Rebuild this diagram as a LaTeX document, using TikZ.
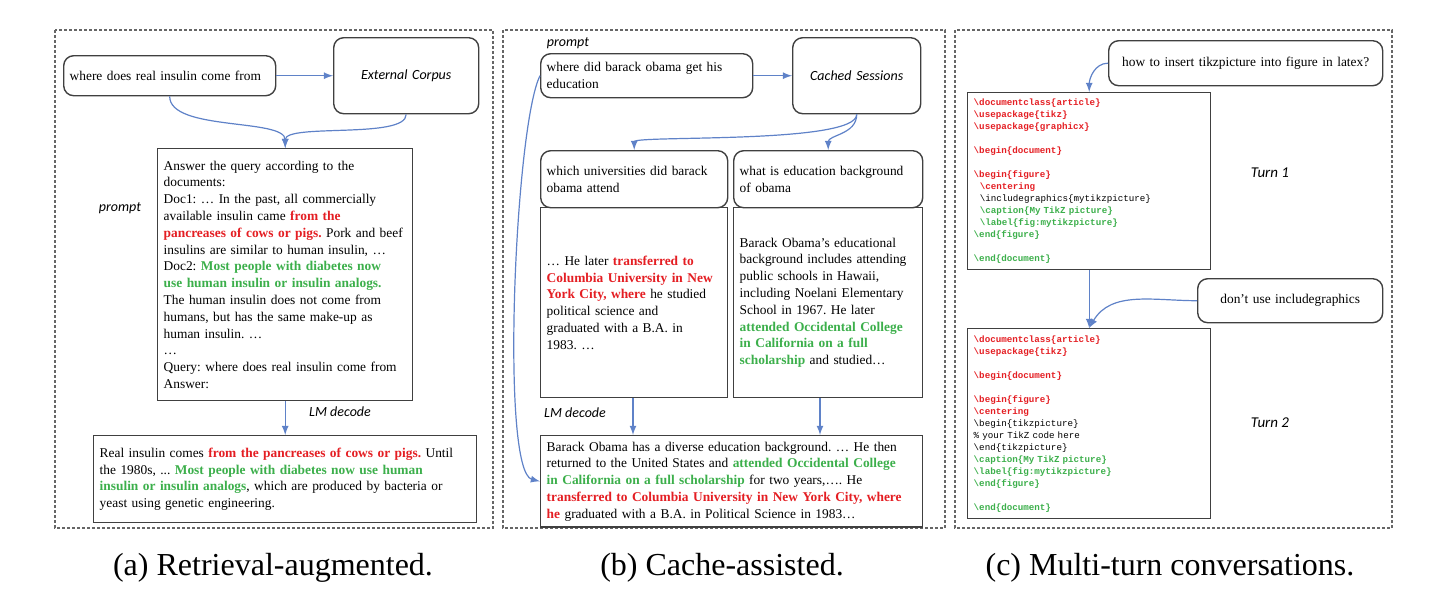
\documentclass[tikz,border=0pt]{standalone}
\usepackage{fontspec}
\setmainfont{Liberation Serif}
\newfontfamily\calib{Carlito}
\newfontfamily\codefont{Liberation Mono}
\usepackage{xcolor}
\usetikzlibrary{arrows,shapes}
\definecolor{hired}{RGB}{228,30,35}
\definecolor{higreen}{RGB}{60,175,75}
\definecolor{arrblue}{RGB}{95,130,200}
\newcommand\rd[1]{\textcolor{hired}{\textbf{#1}}}
\newcommand\gr[1]{\textcolor{higreen}{\textbf{#1}}}
\newcommand\bs{\textbackslash}
\frenchspacing
\tikzset{
  panel/.style={draw=black!60, dash pattern=on 1.5pt off 1pt, line width=0.6pt},
  box/.style={draw=black!75, line width=0.7pt, anchor=north west, align=left, inner sep=3pt,
    font=\fontsize{6.7}{8.4}\selectfont},
  rbox/.style={box, rounded corners=5pt},
  code/.style={box, font=\codefont\fontsize{4.6}{6}\selectfont},
  tag/.style={font=\calib\itshape\fontsize{7}{8}\selectfont},
  flow/.style={draw=arrblue, line width=0.6pt, -latex},
  subcap/.style={font=\fontsize{16}{18}\selectfont}
}
\begin{document}
\begin{tikzpicture}[x=0.5pt,y=-0.5pt]
        \useasboundingbox (0,0) rectangle (1440,612);
        \draw[panel] (55,30) rectangle (493,528);
        \draw[panel] (503,30) rectangle (945,528);
        \draw[panel] (955,30) rectangle (1392,528);
        % (a)
        \node[rbox, text width=100pt, minimum height=20pt] (qa) at (63,55) {where does real insulin come from};
        \node[rbox, tag, text width=66.5pt, minimum height=38pt, align=center] (corpus) at (333,37) {External Corpus};
        \node[box, text width=121.5pt, minimum height=126pt] (doc) at (157,148) {Answer the query according to the\\
documents:\\
Doc1: \dots\ In the past, all commercially\\
available insulin came \rd{from the}\\
\rd{pancreases of cows or pigs.} Pork and beef\\
insulins are similar to human insulin, \dots\\
Doc2: \gr{Most people with diabetes now}\\
\gr{use human insulin or insulin analogs.}\\
The human insulin does not come from\\
humans, but has the same make-up as\\
human insulin. \dots\\
\dots\\
Query: where does real insulin come from\\
Answer:};
        \node[tag] (pa) at (120,208) {prompt};
        \node[tag] (lma) at (340,412) {LM decode};
        \node[box, text width=185.5pt, minimum height=43.5pt] (ansa) at (93,435) {Real insulin comes \rd{from the pancreases of cows or pigs.} Until\\
the 1980s, ... \gr{Most people with diabetes now use human}\\
\gr{insulin or insulin analogs}, which are produced by bacteria or\\
yeast using genetic engineering.};
        \draw[flow] (qa) -- (corpus);
        \draw[flow] (qa.south) .. controls +(0,35) and +(0,-30) .. (doc.north);
        \draw[flow] (corpus.south) .. controls +(0,25) and +(0,-25) .. (doc.north);
        \draw[flow] (doc.south) -- (doc.south |- ansa.north);
        % (b)
        \node[tag] (pb) at (568,43) {prompt};
        \node[rbox, text width=100pt, minimum height=22pt] (qb) at (540,53) {where did barack obama get his\\education};
        \node[rbox, tag, text width=58pt, minimum height=38pt, align=center] (cache) at (792,37) {Cached Sessions};
        \node[rbox, text width=87.5pt, minimum height=28.5pt] (q1) at (540,150) {which universities did barack\\obama attend};
        \node[rbox, text width=88.5pt, minimum height=28.5pt] (q2) at (733,150) {what is education background\\of obama};
        \node[box, text width=87.5pt, minimum height=95pt] (a1) at (540,207) {\dots\ He later \rd{transferred to}\\
\rd{Columbia University in New}\\
\rd{York City, where} he studied\\
political science and\\
graduated with a B.A. in\\
1983. \dots};
        \node[box, text width=88.5pt, minimum height=95pt] (a2) at (733,207) {Barack Obama's educational\\
background includes attending\\
public schools in Hawaii,\\
including Noelani Elementary\\
School in 1967. He later\\
\gr{attended Occidental College}\\
\gr{in California on a full}\\
\gr{scholarship} and studied\dots};
        \node[tag] (lmb) at (575,413) {LM decode};
        \node[box, text width=185pt, minimum height=43.5pt] (fin) at (540,435) {Barack Obama has a diverse education background. \dots\ He then\\
returned to the United States and \gr{attended Occidental College}\\
\gr{in California on a full scholarship} for two years,\dots. He\\
\rd{transferred to Columbia University in New York City, where}\\
\rd{he} graduated with a B.A. in Political Science in 1983\dots};
        \draw[flow] (qb) -- (cache);
        \draw[flow] (cache.south) .. controls +(0,30) and +(0,-15) .. (q1.north);
        \draw[flow] (cache.south) .. controls +(0,20) and +(0,-15) .. (q2.north);
        \draw[flow] (a1.south -| 633,0) -- (633,435);
        \draw[flow] (a2.south -| 820,0) -- (820,435);
        \draw[flow] (qb.west) .. controls +(-25,50) and +(-40,-10) .. (fin.west);
        % (c)
        \node[rbox, text width=131pt, minimum height=22.5pt, align=center] (qc) at (1108,40) {how to insert tikzpicture into figure in latex?};
        \node[code, text width=115.5pt, minimum height=87.5pt] (c1) at (967,92) {\rd{\bs documentclass\{article\}}\\
\rd{\bs usepackage\{tikz\}}\\
\rd{\bs usepackage\{graphicx\}}\\[6pt]
\rd{\bs begin\{document\}}\\[6pt]
\rd{\bs begin\{figure\}}\\
\ \ \rd{\bs centering}\\
\ \ \bs includegraphics\{mytikzpicture\}\\
\ \ \gr{\bs caption\{My TikZ picture\}}\\
\ \ \gr{\bs label\{fig:mytikzpicture\}}\\
\gr{\bs end\{figure\}}\\[6pt]
\gr{\bs end\{document\}}};
        \node[tag, font=\calib\itshape\fontsize{7.5}{8}\selectfont] (t1) at (1270,173) {Turn 1};
        \node[rbox, text width=86.5pt, minimum height=22pt, align=center] (qd) at (1197,278) {don't use includegraphics};
        \node[code, text width=115.5pt, minimum height=95pt] (c2) at (967,328) {\rd{\bs documentclass\{article\}}\\
\rd{\bs usepackage\{tikz\}}\\[6pt]
\rd{\bs begin\{document\}}\\[6pt]
\rd{\bs begin\{figure\}}\\
\rd{\bs centering}\\
\bs begin\{tikzpicture\}\\
\% your TikZ code here\\
\bs end\{tikzpicture\}\\
\gr{\bs caption\{My TikZ picture\}}\\
\gr{\bs label\{fig:mytikzpicture\}}\\
\gr{\bs end\{figure\}}\\[6pt]
\gr{\bs end\{document\}}};
        \node[tag, font=\calib\itshape\fontsize{7.5}{8}\selectfont] (t2) at (1270,423) {Turn 2};
        \draw[flow] (qc.west) to[out=180,in=90] (c1.north);
        \draw[flow] (c1.south) -- (c2.north);
        \draw[flow] (qd.west) to[out=180,in=60] (c2.north);
        % captions
        \node[subcap] (capa) at (273,568) {(a) Retrieval-augmented.};
        \node[subcap] (capb) at (722,568) {(b) Cache-assisted.};
        \node[subcap] (capc) at (1170,568) {(c) Multi-turn conversations.};
\end{tikzpicture}
\end{document}
